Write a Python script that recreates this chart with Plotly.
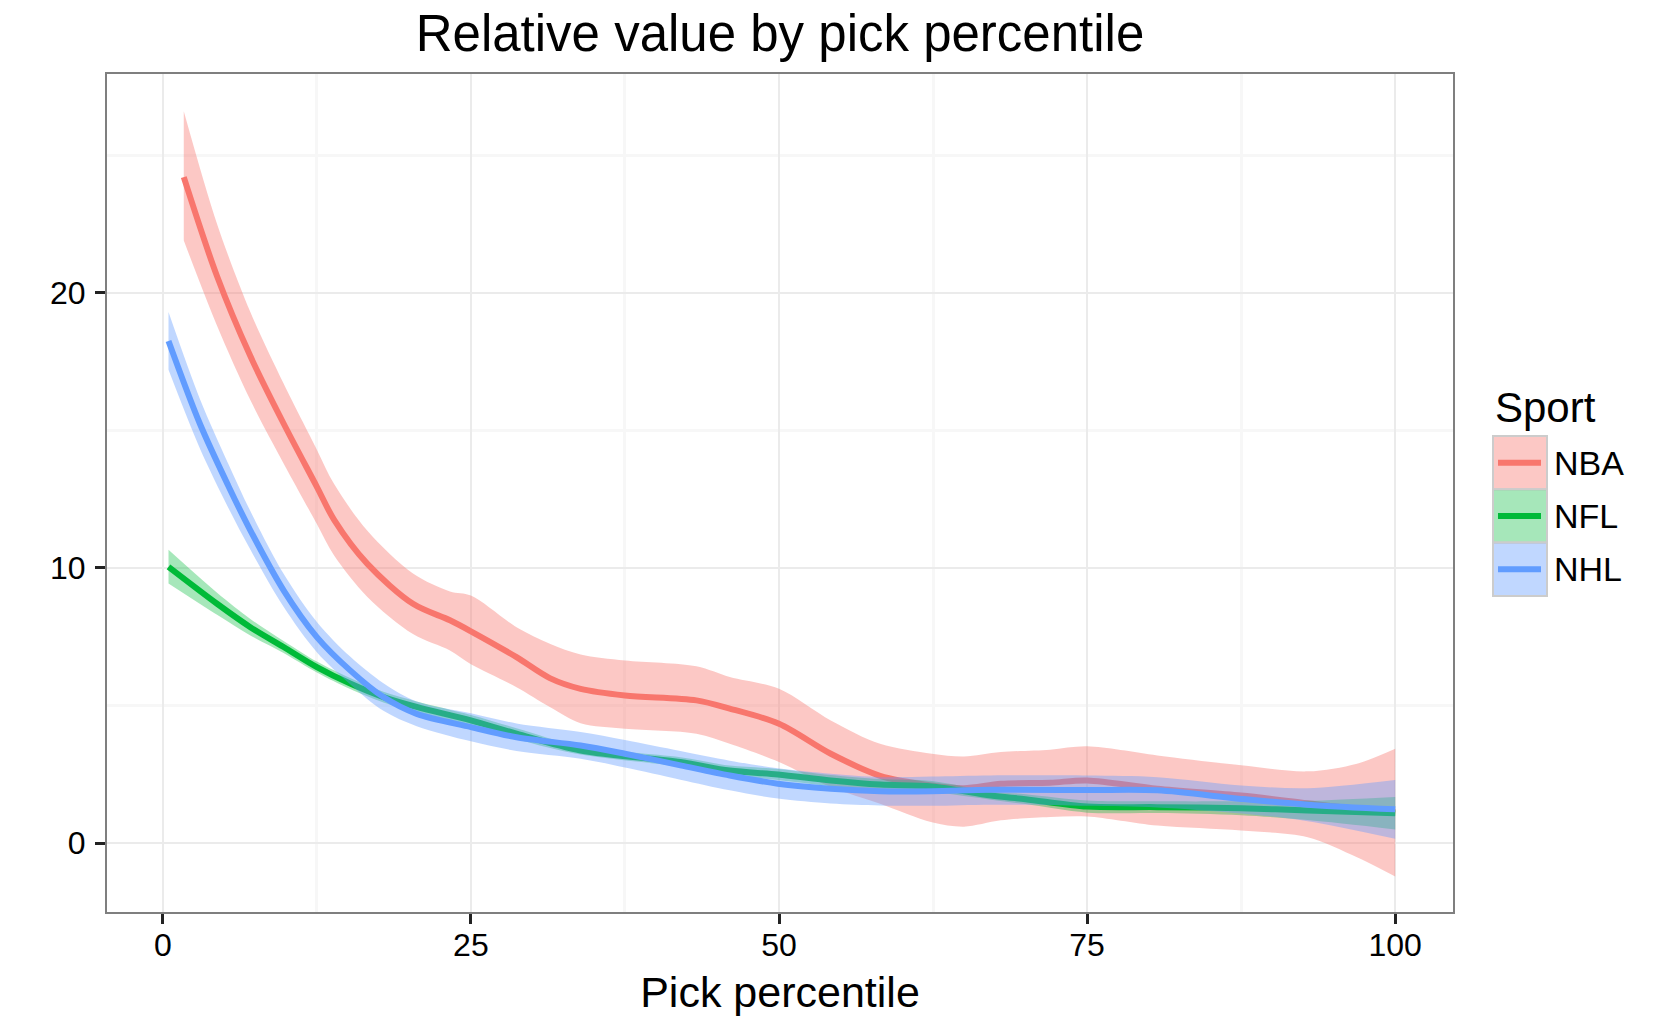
import plotly.graph_objects as go

# smoothed relative value by pick percentile, with confidence band
nba_x = [1.7, 4.4, 7.1, 9.8, 12.5, 13.9, 16.6, 20.3, 23.3, 25.0, 28.7, 31.4, 33.9, 37.5, 43.3, 46.0,
         50.0, 54.2, 58.2, 62.4, 65.0, 68.0, 72.0, 75.0, 80.7, 87.5, 92.9, 96.9, 100.0]
nba_mid = [24.2, 20.6, 17.7, 15.25, 12.95, 11.75, 10.15, 8.7, 8.1, 7.7, 6.76, 6.0, 5.61, 5.37, 5.19, 4.89,
           4.34, 3.25, 2.45, 2.1, 2.0, 2.16, 2.2, 2.28, 1.98, 1.73, 1.45, 1.25, 1.13]
nba_hi = [26.6, 22.5, 19.3, 16.7, 14.3, 13.05, 11.35, 9.8, 9.15, 9.0, 7.85, 7.25, 6.86, 6.64, 6.43, 6.04,
          5.61, 4.46, 3.61, 3.25, 3.15, 3.31, 3.4, 3.52, 3.19, 2.83, 2.61, 2.89, 3.43]
nba_lo = [21.9, 18.8, 16.1, 13.8, 11.6, 10.45, 8.95, 7.6, 7.0, 6.5, 5.67, 4.95, 4.36, 4.16, 3.98, 3.61,
          2.95, 2.04, 1.43, 0.76, 0.6, 0.83, 0.95, 0.97, 0.64, 0.46, 0.22, -0.51, -1.21]

nfl_x = [0.46, 4.4, 7.1, 9.8, 12.5, 15.2, 17.9, 20.6, 25.0, 28.7, 33.9, 42.0, 46.0, 49.9, 54.2, 58.2,
         62.4, 67.2, 70.0, 75.0, 80.7, 87.5, 92.9, 100.0]
nfl_mid = [10.04, 8.7, 7.85, 7.13, 6.4, 5.8, 5.31, 4.95, 4.46, 3.98, 3.37, 2.95, 2.64, 2.5, 2.28, 2.13,
           2.06, 1.73, 1.6, 1.33, 1.31, 1.27, 1.19, 1.09]
nfl_hi = [10.66, 9.1, 8.15, 7.35, 6.6, 6.0, 5.5, 5.15, 4.66, 4.18, 3.52, 3.12, 2.82, 2.7, 2.48, 2.33,
          2.26, 1.88, 1.78, 1.55, 1.52, 1.52, 1.54, 1.68]
nfl_lo = [9.44, 8.3, 7.55, 6.91, 6.2, 5.6, 5.11, 4.75, 4.26, 3.78, 3.22, 2.78, 2.46, 2.3, 2.08, 1.93,
          1.86, 1.58, 1.42, 1.11, 1.1, 1.02, 0.84, 0.5]

nhl_x = [0.46, 3.0, 5.3, 7.1, 9.8, 12.5, 15.2, 17.9, 20.6, 25.0, 28.7, 33.9, 37.5, 42.0, 46.0, 49.9,
         54.2, 58.2, 62.4, 67.2, 75.0, 80.7, 87.5, 92.9, 100.0]
nhl_mid = [18.25, 15.25, 13.0, 11.37, 9.19, 7.49, 6.28, 5.31, 4.7, 4.22, 3.85, 3.55, 3.25, 2.83, 2.46, 2.16,
           1.98, 1.89, 1.89, 1.94, 1.93, 1.92, 1.61, 1.4, 1.23]
nhl_hi = [19.3, 16.15, 13.8, 12.07, 9.79, 8.04, 6.78, 5.81, 5.15, 4.72, 4.35, 4.04, 3.75, 3.35, 3.0, 2.72,
          2.52, 2.4, 2.42, 2.46, 2.46, 2.4, 2.1, 2.0, 2.3]
nhl_lo = [17.2, 14.35, 12.2, 10.67, 8.59, 6.94, 5.78, 4.81, 4.25, 3.7, 3.35, 3.07, 2.75, 2.31, 1.92, 1.62,
          1.44, 1.37, 1.36, 1.4, 1.36, 1.3, 1.08, 0.8, 0.16]

sports = ["NBA", "NFL", "NHL"]
colors = ["#F8766D", "#00BA38", "#619CFF"]
fills = ["rgba(248,118,109,0.4)", "rgba(0,186,56,0.35)", "rgba(97,156,255,0.4)"]
series = [
    (nba_x, nba_mid, nba_lo, nba_hi),
    (nfl_x, nfl_mid, nfl_lo, nfl_hi),
    (nhl_x, nhl_mid, nhl_lo, nhl_hi),
]

FONT = "Liberation Sans, Arial, Helvetica, sans-serif"
# page body has an 8px margin, so the figure is a bit smaller than the window
OFF = 8
W, H = 1660 - OFF, 1022 - OFF
PL, PR, PT, PB = 107, 1453, 74, 912  # panel edges in window pixels
L, R, T, B = PL - OFF, 1660 - PR, PT - OFF, 1022 - PB

fig = go.Figure()
for name, col, fill, (x, mid, lo, hi) in zip(sports, colors, fills, series):
    # ribbon then line, group by group (like geom_smooth)
    fig.add_trace(go.Scatter(
        x=x, y=hi, mode="lines", line=dict(width=0, shape="spline", smoothing=0.9),
        hoverinfo="skip", showlegend=False,
    ))
    fig.add_trace(go.Scatter(
        x=x, y=lo, mode="lines", line=dict(width=0, shape="spline", smoothing=0.9),
        fill="tonexty", fillcolor=fill, hoverinfo="skip", showlegend=False,
    ))
    fig.add_trace(go.Scatter(
        x=x, y=mid, mode="lines", name=name,
        line=dict(color=col, width=6, shape="spline", smoothing=0.9),
        showlegend=False,
    ))


def px_x(p):
    return (p - PL) / (PR - PL)


def px_y(p):
    return (PB - p) / (PB - PT)


# hand-drawn ggplot-style legend
shapes = []
annotations = []
key_top, key_h = 436, 53.3
for i, (name, col, fill) in enumerate(zip(sports, colors, fills)):
    y0 = key_top + i * key_h
    y1 = y0 + key_h
    shapes.append(dict(type="rect", xref="paper", yref="paper",
                       x0=px_x(1493), x1=px_x(1547), y0=px_y(y1), y1=px_y(y0),
                       fillcolor=fill, line=dict(color="#CCCCCC", width=2)))
    ym = px_y((y0 + y1) / 2)
    shapes.append(dict(type="line", xref="paper", yref="paper",
                       x0=px_x(1498), x1=px_x(1541), y0=ym, y1=ym,
                       line=dict(color=col, width=6)))
    annotations.append(dict(text=name, xref="paper", yref="paper",
                            x=px_x(1552), y=ym, xanchor="left", yanchor="middle",
                            showarrow=False, font=dict(size=34, color="black", family=FONT)))
annotations.append(dict(text="Sport", xref="paper", yref="paper",
                        x=px_x(1493), y=px_y(407), xanchor="left", yanchor="middle",
                        showarrow=False, font=dict(size=42, color="black", family=FONT)))

axis_common = dict(
    showline=True, linecolor="#7F7F7F", linewidth=2, mirror=True,
    showgrid=True, gridcolor="#EBEBEB", gridwidth=2,
    zeroline=False,
    ticks="outside", ticklen=10, tickwidth=2.5, tickcolor="#222222",
    tickfont=dict(size=32, color="black", family=FONT),
)

fig.update_layout(
    width=W, height=H,
    margin=dict(l=L, r=R, t=T, b=B),
    paper_bgcolor="white", plot_bgcolor="white",
    font=dict(family=FONT, color="black"),
    title=dict(text="Relative value by pick percentile", x=px_x(780), xref="paper",
               xanchor="center", y=1 - (33 - OFF) / H, yanchor="middle",
               font=dict(size=51, color="black", family=FONT)),
    xaxis=dict(
        range=[-4.53, 104.69], tickvals=[0, 25, 50, 75, 100],
        minor=dict(tickvals=[12.5, 37.5, 62.5, 87.5], showgrid=True, gridcolor="#F7F7F7",
                   gridwidth=3, ticks=""),
        title=dict(text="Pick percentile", font=dict(size=43, color="black", family=FONT), standoff=14),
        ticklabelstandoff=-6,
        **axis_common,
    ),
    yaxis=dict(
        range=[-2.5, 27.95], tickvals=[0, 10, 20],
        minor=dict(tickvals=[5, 15, 25], showgrid=True, gridcolor="#F7F7F7", gridwidth=3, ticks=""),
        ticklabelstandoff=3,
        **axis_common,
    ),
    shapes=shapes,
    annotations=annotations,
    showlegend=False,
)

fig.write_html("out.html")
